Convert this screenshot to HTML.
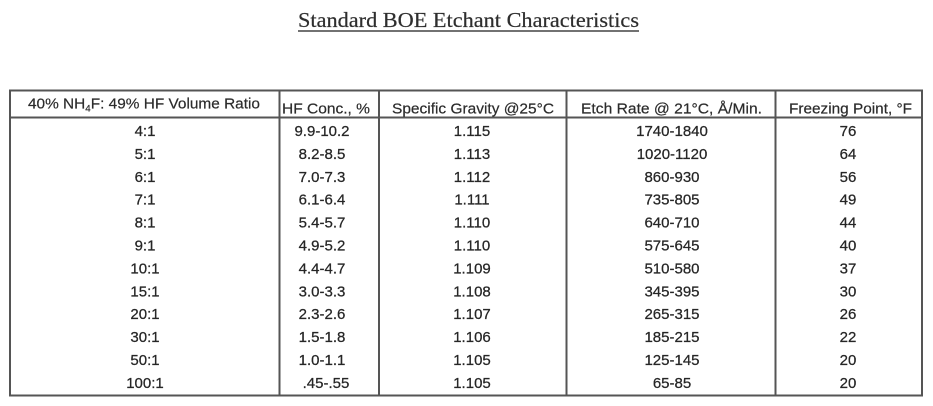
<!DOCTYPE html>
<html><head><meta charset="utf-8"><style>
html,body{margin:0;padding:0;background:#fff;}
svg{display:block;}
.h{font-family:"Liberation Sans",sans-serif;font-size:15px;fill:#2b2b2b;stroke:#2b2b2b;stroke-width:0.2;}
.d{font-family:"Liberation Sans",sans-serif;font-size:15px;fill:#262626;stroke:#262626;stroke-width:0.25;text-anchor:middle;}
.t{font-family:"Liberation Serif",serif;font-size:21px;fill:#2e2e2e;stroke:#2e2e2e;stroke-width:0.2;}
</style></head><body>
<svg width="933" height="406" viewBox="0 0 933 406" xmlns="http://www.w3.org/2000/svg">
<rect width="933" height="406" fill="#fff"/>
<text class="t" x="298" y="27" textLength="341" lengthAdjust="spacingAndGlyphs">Standard BOE Etchant Characteristics</text>
<line x1="298" y1="31" x2="639" y2="31" stroke="#444" stroke-width="1.5"/>
<g stroke="#555" stroke-width="2" fill="none">
<rect x="10" y="90.5" width="912" height="305"/>
<line x1="10" y1="117.5" x2="922" y2="117.5"/>
<line x1="279.5" y1="90" x2="279.5" y2="396"/>
<line x1="379" y1="90" x2="379" y2="396"/>
<line x1="566.5" y1="90" x2="566.5" y2="396"/>
<line x1="775.5" y1="90" x2="775.5" y2="396"/>
</g>
<text class="h" x="28" y="108.5" textLength="232" lengthAdjust="spacingAndGlyphs">40% NH<tspan font-size="9.5" dy="3">4</tspan><tspan dy="-3">F: 49% HF Volume Ratio</tspan></text>
<text class="h" x="282" y="113.5" textLength="88" lengthAdjust="spacingAndGlyphs">HF Conc., %</text>
<text class="h" x="392" y="113.5" textLength="162" lengthAdjust="spacingAndGlyphs">Specific Gravity @25°C</text>
<text class="h" x="581" y="113.5" textLength="181" lengthAdjust="spacingAndGlyphs">Etch Rate @ 21°C, Å/Min.</text>
<text class="h" x="789" y="113.5" textLength="123" lengthAdjust="spacingAndGlyphs">Freezing Point, °F</text>
<g>
<text class="d" x="145" y="136">4:1</text><text class="d" x="322" y="136">9.9-10.2</text><text class="d" x="472" y="136">1.115</text><text class="d" x="672" y="136">1740-1840</text><text class="d" x="848" y="136">76</text>
<text class="d" x="145" y="158.9">5:1</text><text class="d" x="322" y="158.9">8.2-8.5</text><text class="d" x="472" y="158.9">1.113</text><text class="d" x="672" y="158.9">1020-1120</text><text class="d" x="848" y="158.9">64</text>
<text class="d" x="145" y="181.8">6:1</text><text class="d" x="322" y="181.8">7.0-7.3</text><text class="d" x="472" y="181.8">1.112</text><text class="d" x="672" y="181.8">860-930</text><text class="d" x="848" y="181.8">56</text>
<text class="d" x="145" y="204.7">7:1</text><text class="d" x="322" y="204.7">6.1-6.4</text><text class="d" x="472" y="204.7">1.111</text><text class="d" x="672" y="204.7">735-805</text><text class="d" x="848" y="204.7">49</text>
<text class="d" x="145" y="227.6">8:1</text><text class="d" x="322" y="227.6">5.4-5.7</text><text class="d" x="472" y="227.6">1.110</text><text class="d" x="672" y="227.6">640-710</text><text class="d" x="848" y="227.6">44</text>
<text class="d" x="145" y="250.5">9:1</text><text class="d" x="322" y="250.5">4.9-5.2</text><text class="d" x="472" y="250.5">1.110</text><text class="d" x="672" y="250.5">575-645</text><text class="d" x="848" y="250.5">40</text>
<text class="d" x="145" y="273.4">10:1</text><text class="d" x="322" y="273.4">4.4-4.7</text><text class="d" x="472" y="273.4">1.109</text><text class="d" x="672" y="273.4">510-580</text><text class="d" x="848" y="273.4">37</text>
<text class="d" x="145" y="296.3">15:1</text><text class="d" x="322" y="296.3">3.0-3.3</text><text class="d" x="472" y="296.3">1.108</text><text class="d" x="672" y="296.3">345-395</text><text class="d" x="848" y="296.3">30</text>
<text class="d" x="145" y="319.2">20:1</text><text class="d" x="322" y="319.2">2.3-2.6</text><text class="d" x="472" y="319.2">1.107</text><text class="d" x="672" y="319.2">265-315</text><text class="d" x="848" y="319.2">26</text>
<text class="d" x="145" y="342.1">30:1</text><text class="d" x="322" y="342.1">1.5-1.8</text><text class="d" x="472" y="342.1">1.106</text><text class="d" x="672" y="342.1">185-215</text><text class="d" x="848" y="342.1">22</text>
<text class="d" x="145" y="365">50:1</text><text class="d" x="322" y="365">1.0-1.1</text><text class="d" x="472" y="365">1.105</text><text class="d" x="672" y="365">125-145</text><text class="d" x="848" y="365">20</text>
<text class="d" x="145" y="388">100:1</text><text class="d" x="326" y="388">.45-.55</text><text class="d" x="472" y="388">1.105</text><text class="d" x="672" y="388">65-85</text><text class="d" x="848" y="388">20</text>
</g>
</svg>
</body></html>
